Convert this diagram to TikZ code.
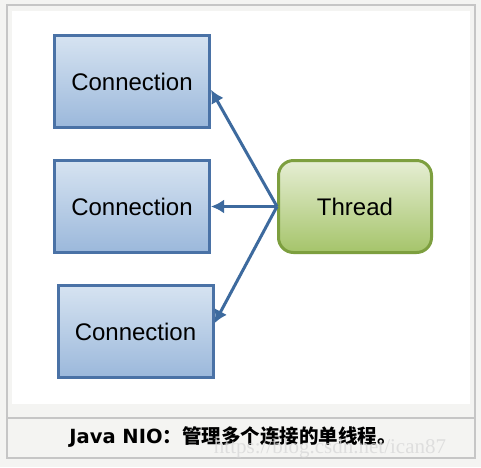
\documentclass[tikz,border=0pt]{standalone}
\usepackage{fontspec}
\setmainfont{Liberation Sans}
\newfontfamily\capfont{DejaVu Sans}
\newfontfamily\cjk{Noto Sans CJK SC}
\newfontfamily\markfont{Liberation Serif}
\usetikzlibrary{calc,arrows.meta}

\definecolor{conntop}{HTML}{D6E3F1}
\definecolor{connbot}{HTML}{9BB8DB}
\definecolor{connline}{HTML}{4A72A6}
\definecolor{threadtop}{HTML}{E6EED4}
\definecolor{threadbot}{HTML}{A5C46A}
\definecolor{threadline}{HTML}{7D9F3F}
\definecolor{arrowblue}{HTML}{3D6A9E}
\definecolor{framegray}{HTML}{C6C6C6}
\definecolor{pagegray}{HTML}{F4F4F2}

\tikzset{
  conn/.style={draw=connline, line width=3pt, top color=conntop, bottom color=connbot,
    minimum width=155pt, minimum height=92pt, font=\fontsize{24}{28}\selectfont},
  thread/.style={draw=threadline, line width=3pt, top color=threadtop, bottom color=threadbot,
    rounded corners=15pt, minimum width=153pt, minimum height=92pt, font=\fontsize{24}{28}\selectfont},
  link/.style={draw=arrowblue, line width=3pt, -{Latex[length=13pt,width=14pt]}}
}

\begin{document}
\begin{tikzpicture}[x=1pt,y=-1pt]
      % frame
      \useasboundingbox (0,0) rectangle (481,467);
      \fill[pagegray] (0,0) rectangle (481,467);
      \draw[framegray, line width=2pt, fill=pagegray] (7,5) rectangle (475,458);
      \fill[white] (12,11) rectangle (470,404);
      \draw[framegray, line width=2pt] (7,418) -- (475,418);
      % connections
      \draw (132,81.5) node[conn](c1){Connection};
      \draw (132,206.5) node[conn](c2){Connection};
      \draw (135.5,331.5) node[conn](c3){Connection};
      % thread
      \draw (355,206.5) node[thread](th){Thread};
      % arrows
      \draw[link] (th.west) -- (c1.-6);
      \draw[link] (th.west) -- (c2.east);
      \draw[link] (th.west) -- (c3.6);
      % caption
      \draw (233,437) node[font=\fontsize{19.5}{23}\selectfont\bfseries](cap){\capfont Java NIO\cjk：管理多个连接的单线程。};
      \draw (330,448) node[font=\fontsize{21}{24}\selectfont\markfont, text=black!15, opacity=0.8](mark){https://blog.csdn.net/ican87};
\end{tikzpicture}
\end{document}
